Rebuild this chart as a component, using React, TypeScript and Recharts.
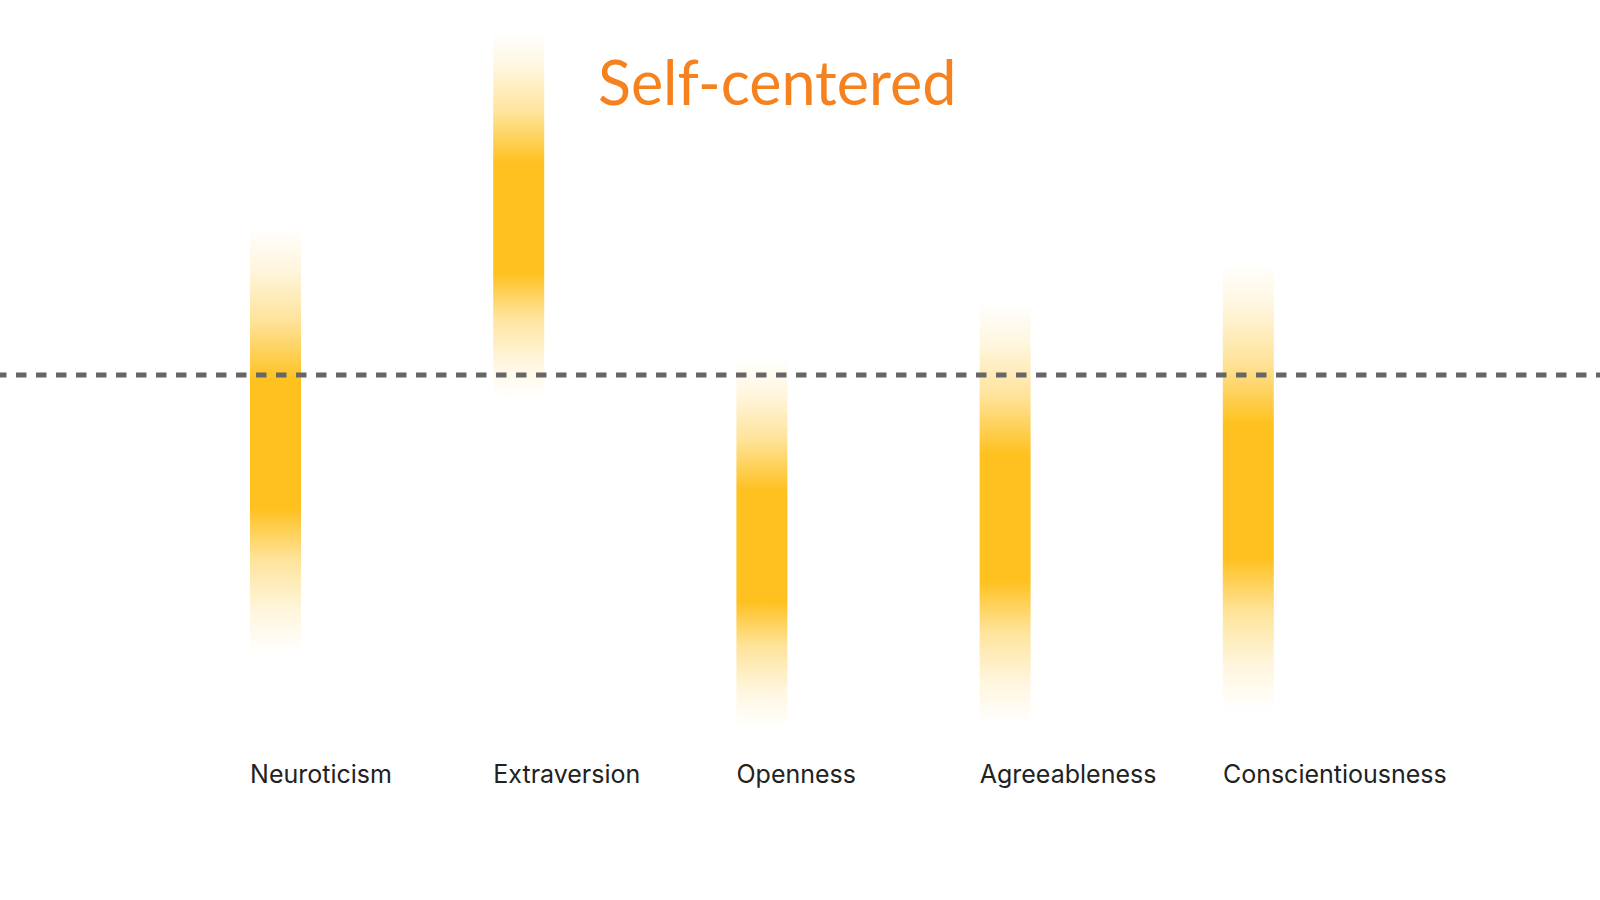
import React from "react";
import { BarChart, Bar, XAxis, YAxis, ReferenceLine } from "recharts";

// trait ranges (z-score like units, 0 = population average)
const traits = ["Neuroticism", "Extraversion", "Openness", "Agreeableness", "Conscientiousness"];
const lows = [-1.39, -0.11, -1.76, -1.745, -1.675];
const highs = [0.74, 1.715, 0.085, 0.36, 0.56];
const averageLine = 0;
const title = "Self-centered";

const data = traits.map((name, i) => ({ name, low: lows[i], high: highs[i] }));

const BAR_SIZE = 51;

function TraitTick(props: any) {
  const { x, y, payload } = props;
  return (
    <text
      x={x - BAR_SIZE / 2}
      y={y}
      dy={48}
      textAnchor="start"
      fill="#222222"
      fontSize={25}
      fontFamily="Inter, 'Noto Sans', sans-serif"
    >
      {payload.value}
    </text>
  );
}

export default function App() {
  return (
    <div style={{ position: "absolute", left: 0, top: 0, width: 1600, height: 900, background: "#fff" }}>
      <BarChart
        width={1600}
        height={900}
        data={data}
        margin={{ top: 15, right: 0, bottom: 135, left: 0 }}
        barSize={BAR_SIZE}
      >
        <defs>
          <linearGradient id="traitFade" x1="0" y1="0" x2="0" y2="1">
            <stop offset="0" stopColor="#FEC11F" stopOpacity={0} />
            <stop offset="0.1" stopColor="#FEC11F" stopOpacity={0.15} />
            <stop offset="0.22" stopColor="#FEC11F" stopOpacity={0.45} />
            <stop offset="0.36" stopColor="#FEC11F" stopOpacity={1} />
            <stop offset="0.66" stopColor="#FEC11F" stopOpacity={1} />
            <stop offset="0.78" stopColor="#FEC11F" stopOpacity={0.45} />
            <stop offset="0.9" stopColor="#FEC11F" stopOpacity={0.15} />
            <stop offset="1" stopColor="#FEC11F" stopOpacity={0} />
          </linearGradient>
        </defs>
        <XAxis
          dataKey="name"
          axisLine={false}
          tickLine={false}
          tickSize={0}
          tickMargin={0}
          padding={{ left: 154, right: 230 }}
          interval={0}
          tick={<TraitTick />}
        />
        <YAxis hide domain={[-1.8, 1.8]} />
        <Bar
          dataKey={(d: any) => [d.low, d.high]}
          fill="url(#traitFade)"
          isAnimationActive={false}
        />
        <ReferenceLine
          y={averageLine}
          stroke="#666666"
          strokeWidth={5}
          strokeDasharray="10.5 9.5"
          strokeDashoffset={4}
        />
      </BarChart>
      <svg
        width={1600}
        height={900}
        style={{ position: "absolute", left: 0, top: 0, pointerEvents: "none" }}
      >
        <text x={598} y={105} fill="#F5821F" fontSize={61} fontFamily="Lato, 'Open Sans', sans-serif">
          {title}
        </text>
      </svg>
    </div>
  );
}
